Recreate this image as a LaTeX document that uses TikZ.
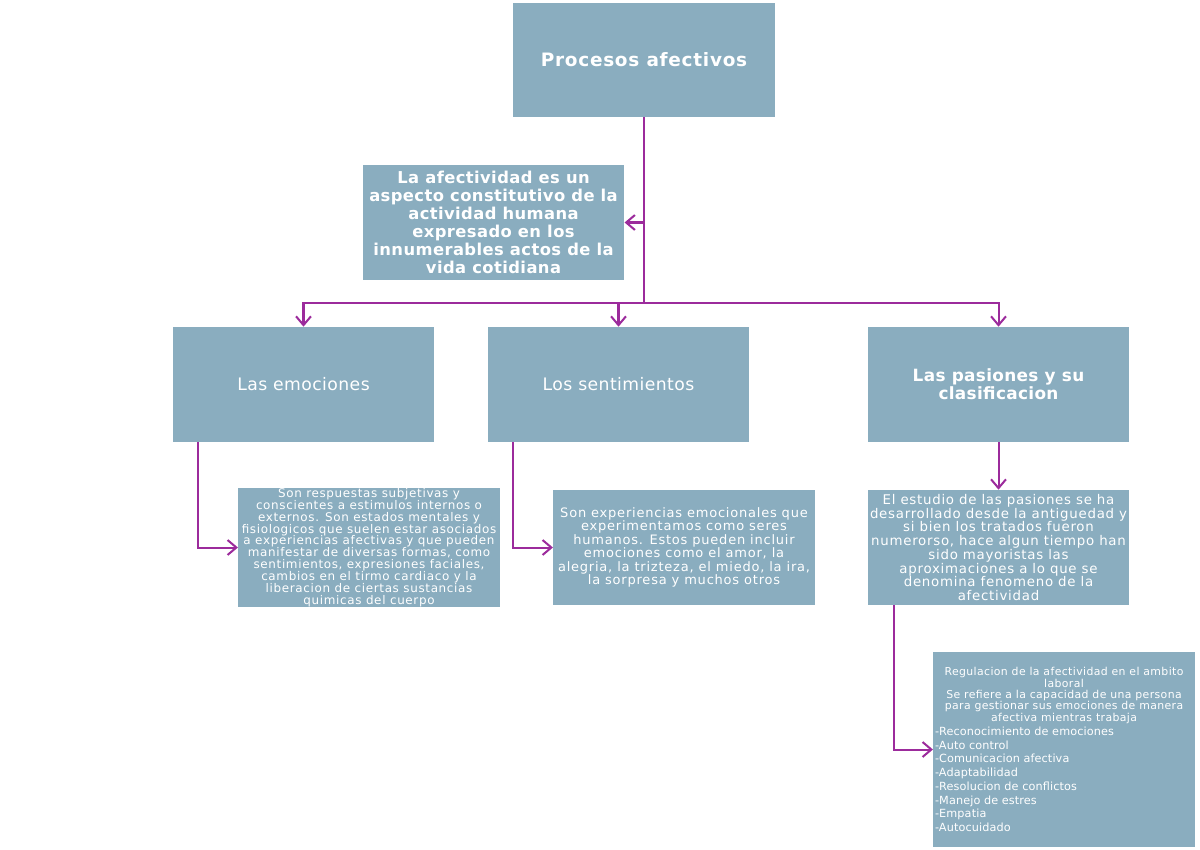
\documentclass[tikz,border=0pt]{standalone}
\usepackage{fontspec}
\setmainfont{DejaVu Sans}
\usetikzlibrary{arrows.meta}
\definecolor{boxc}{HTML}{8AADBF}
\definecolor{linec}{HTML}{9C2B9C}
\newcommand{\ls}[1]{\addfontfeature{LetterSpace=#1}}
\newcommand{\itm}[1]{\makebox[5.16cm][l]{\fontsize{6.4}{7.8}\selectfont\ls{1}#1}}
\begin{document}
\begin{tikzpicture}[x=0.02cm,y=-0.02cm,
  box/.style={fill=boxc, text=white, inner sep=0pt, align=center, minimum width=5.23cm, minimum height=2.3cm},
  conn/.style={draw=linec, line width=1.15pt, -{Straight Barb[length=5pt,width=8.5pt,line width=1.15pt]}},
  plainline/.style={draw=linec, line width=1.15pt},
  titlef/.style={font=\fontsize{10.5}{12}\selectfont\bfseries\ls{4}},
  headf/.style={font=\fontsize{9.6}{10.2}\selectfont\bfseries\ls{2}},
  regf/.style={font=\fontsize{9.8}{11}\selectfont\ls{2.5}}]
\useasboundingbox (0,0) rectangle (1200,849);

\node[box, titlef, minimum height=2.28cm] (top) at (644,60) {Procesos afectivos};
\node[box, font=\fontsize{9.3}{10.2}\selectfont\bfseries\ls{2.6}] (afect) at (493.5,222.5)
 {La afectividad es un\\aspecto constitutivo de la\\actividad humana\\expresado en los\\innumerables actos de la\\vida cotidiana};

\node[box, regf] (emo) at (303.5,384.5) {Las emociones};
\node[box, regf] (sent) at (618.5,384.5) {Los sentimientos};
\node[box, headf] (pas) at (998.5,384.5) {Las pasiones y su\\clasificacion};

\node[box, font=\fontsize{6.8}{6.75}\selectfont\ls{5.5}] (emoT) at (369,547.5)
 {Son respuestas subjetivas y\\conscientes a estimulos internos o\\externos. Son estados mentales y\\fisiologicos que suelen estar asociados\\a experiencias afectivas y que pueden\\manifestar de diversas formas, como\\sentimientos, expresiones faciales,\\cambios en el tirmo cardiaco y la\\liberacion de ciertas sustancias\\quimicas del cuerpo};
\node[box, font=\fontsize{7.4}{7.65}\selectfont\ls{6}] (sentT) at (684,547.5)
 {Son experiencias emocionales que\\experimentamos como seres\\humanos. Estos pueden incluir\\emociones como el amor, la\\alegria, la trizteza, el miedo, la ira,\\la sorpresa y muchos otros};
\node[box, font=\fontsize{7.6}{7.8}\selectfont\ls{5.5}] (pasT) at (998.5,547.5)
 {El estudio de las pasiones se ha\\desarrollado desde la antiguedad y\\si bien los tratados fueron\\numerorso, hace algun tiempo han\\sido mayoristas las\\aproximaciones a lo que se\\denomina fenomeno de la\\afectividad};

\node[box, minimum height=3.9cm, font=\fontsize{6.2}{6.5}\selectfont\ls{3.5}] (big) at (1064,749.5)
 {Regulacion de la afectividad en el ambito\\laboral\\Se refiere a la capacidad de una persona\\para gestionar sus emociones de manera\\afectiva mientras trabaja\\[1.6pt]
  \itm{-Reconocimiento de emociones}\\[1.3pt]
  \itm{-Auto control}\\[1.3pt]
  \itm{-Comunicacion afectiva}\\[1.3pt]
  \itm{-Adaptabilidad}\\[1.3pt]
  \itm{-Resolucion de conflictos}\\[1.3pt]
  \itm{-Manejo de estres}\\[1.3pt]
  \itm{-Empatia}\\[1.3pt]
  \itm{-Autocuidado}};

\coordinate (j) at (644,303);
\draw[plainline] (top.south) -- (j);
\draw[conn] (top.south |- afect.east) -- (afect.east);
\draw[conn] (j) -| (emo.north);
\draw[conn] (j) -| (sent.north);
\draw[conn] (j) -| (pas.north);
\draw[conn] ([xshift=0.52cm]emo.south west) |- (emoT.west);
\draw[conn] ([xshift=0.52cm]sent.south west) |- (sentT.west);
\draw[conn] (pas.south) -- (pasT.north);
\draw[conn] ([xshift=0.54cm]pasT.south west) |- (big.west);
\end{tikzpicture}
\end{document}
